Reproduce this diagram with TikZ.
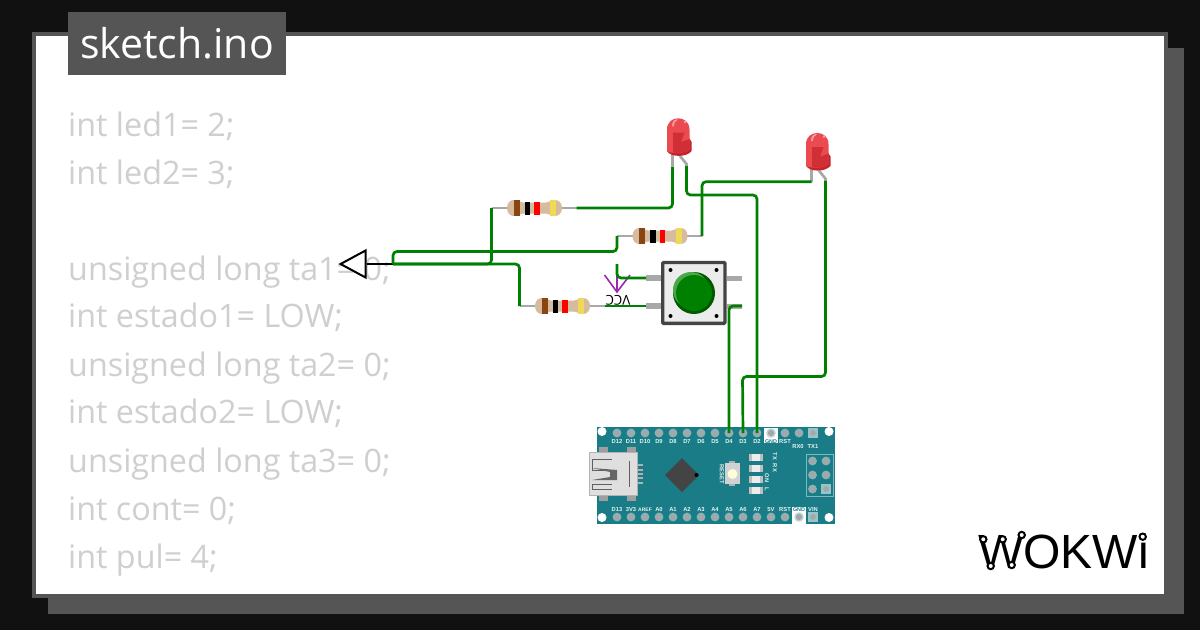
\documentclass[tikz,border=0pt]{standalone}
\usepackage{fontspec}
\usetikzlibrary{shapes.geometric}
\setmainfont{Open Sans}
\newfontfamily\boardfont{Liberation Sans}[Scale=1]
\newfontfamily\logofont{Liberation Sans}
\definecolor{pagebg}{HTML}{111111}
\definecolor{framegray}{HTML}{555555}
\definecolor{codegray}{HTML}{CFCFCF}
\definecolor{wiregreen}{HTML}{008000}
\definecolor{leadgray}{HTML}{A8A8A8}
\definecolor{boardteal}{HTML}{1A7C86}
\definecolor{bodytan}{HTML}{D5BC9E}
\definecolor{ledred}{HTML}{EA4A50}
\definecolor{ledmid}{HTML}{CF2F35}
\definecolor{leddark}{HTML}{C4242A}
\definecolor{vccpurple}{HTML}{9C27B0}
\definecolor{chipgray}{HTML}{444444}
\definecolor{bandbrown}{HTML}{8B4513}
\definecolor{bandyellow}{HTML}{F0D858}
\tikzset{
  wire/.style={draw=wiregreen, line width=2.7pt, rounded corners=4pt},
  lead/.style={draw=leadgray, line width=2.7pt},
  codeline/.style={anchor=base west, inner sep=0pt, text=codegray, font=\fontsize{32.3}{33}\selectfont},
  pinlabel/.style={inner sep=0pt, text height=4.2pt, text depth=0pt, text=white!90!boardteal, font=\boardfont\bfseries\fontsize{5.8}{6}\selectfont},
  gndlabel/.style={inner sep=0pt, text height=4.2pt, text depth=0pt, text=boardteal, font=\boardfont\bfseries\fontsize{5.4}{6}\selectfont},
  sidelabel/.style={pinlabel, rotate=-90},
  logoring/.style={draw=black, fill=white, line width=2pt},
}
% resistor: left end of the body at x,y
\newcommand\resistor[3]{
  \begin{scope}[shift={(#2,#3)}]
    \coordinate (#1l) at (-15.5,0);
    \coordinate (#1r) at (69.5,0);
    \draw[lead] (#1l) -- (#1r);
    \fill[bodytan] (0,0) .. controls (0,-5) and (3,-8) .. (7,-8) .. controls (11,-8) and (13,-5.5) .. (16,-5.5)
      -- (39,-5.5) .. controls (42,-5.5) and (44,-8) .. (48,-8) .. controls (52,-8) and (55,-5) .. (55,0)
      .. controls (55,5) and (52,8) .. (48,8) .. controls (44,8) and (42,5.5) .. (39,5.5)
      -- (16,5.5) .. controls (13,5.5) and (11,8) .. (7,8) .. controls (3,8) and (0,5) .. (0,0) -- cycle;
    \fill[bandbrown] (6.7,-8) rectangle (12.7,8);
    \fill[black] (17.7,-6.5) rectangle (23.3,6.5);
    \fill[red] (27.3,-6.5) rectangle (32.7,6.5);
    \fill[bandyellow] (43.3,-8) rectangle (49.3,8);
  \end{scope}
}
% led: left end of the dome, top
\newcommand\ledpart[3]{
  \begin{scope}[shift={(#2,#3)}]
    \coordinate (#1a) at (5.5,49);
    \coordinate (#1b) at (19.5,48);
    \draw[lead] (5.5,36) -- (#1a);
    \draw[lead] (13,38) -- (19.5,46) -- (#1b);
    \fill[leddark] (0,30) -- (0,33) .. controls (3,39) and (19,40) .. (24.7,33) -- (24.7,24) -- (22,20) -- cycle;
    \fill[ledred] (0,33) -- (0,11.5) .. controls (0,-3.5) and (22.5,-3.5) .. (22.5,11.5) -- (22.5,31)
      .. controls (18,36) and (5,36) .. (0,33) -- cycle;
    \fill[ledmid] (6,14.5) -- (17.5,14.5) -- (14,24) -- (22.5,21) -- (22.5,31) .. controls (18,35) and (10,35.5) .. (6,34.5) -- cycle;
    \fill[white!45!ledred] (5,8) .. controls (5,2) and (9,1) .. (11,1.5) .. controls (8,3) and (7,5) .. (7,8.5) -- cycle;
    \fill[white!45!ledred] (18,4) circle (1.5);
  \end{scope}
}
\begin{document}
\begin{tikzpicture}[x=1pt,y=-1pt]
  \useasboundingbox (0,0) rectangle (1200,630);
  \fill[pagebg] (0,0) rectangle (1200,630);
  \fill[framegray] (48,48) rectangle (1184,614);
  \fill[framegray] (32,32) rectangle (1168,598);
  \fill[white] (36,36) rectangle (1164,594);

  %% code behind the circuit
  \foreach \yy/\txt [count=\i] in {136/int led1= 2;, 184/int led2= 3;, 280/unsigned long ta1= 0;,
    327/int estado1= LOW;, 376/unsigned long ta2= 0;, 423/int estado2= LOW;,
    472/unsigned long ta3= 0;, 520/int cont= 0;, 568/int pul= 4;}
    \node[codeline] (code\i) at (68,\yy) {\txt};

  \fill[framegray] (68,12) rectangle (286,75);
  \node[inner sep=0pt, anchor=base, text=white, font=\fontsize{41}{42}\selectfont] (title) at (177,58) {sketch.ino};

  %% nano board
  \fill[boardteal] (597,427) rectangle (835,524);
  \fill[white] (764,428) rectangle (778,443);
  \fill[white] (792,507) rectangle (806,524);
  \foreach \xx/\yy in {602/431.5, 602/517.5, 829/431.5, 829/517.5}
    \fill[white] (\xx,\yy) circle (4.5);

  \foreach \nm/\xx in {D12/617, D11/631, D10/645, D9/659, D8/673, D7/687, D6/701, D5/715, D4/729, D3/743, D2/757, RST/785}{
    \coordinate (p\nm) at (\xx,433);
    \fill[white!45!boardteal] (\xx,433) circle (4.4);
    \fill[gray!70] (\xx,433) circle (3.1);
    \node[pinlabel] (ltop\nm) at (\xx,441) {\nm};
  }
  \foreach \nm/\xx in {D13/617, 3V3/631, A0/659, A1/673, A2/687, A3/701, A4/715, A5/729, A6/743, A7/757, 5V/771, RST/785, VIN/813}{
    \fill[white!45!boardteal] (\xx,517) circle (4.4);
    \fill[gray!70] (\xx,517) circle (3.1);
    \node[pinlabel] (lbot\nm) at (\xx,509) {\nm};
  }
  \fill[white!45!boardteal] (645,517) circle (4.4);
  \fill[gray!70] (645,517) circle (3.1);
  \node[pinlabel, font=\boardfont\bfseries\fontsize{5}{6}\selectfont] (lbotAREF) at (645,509) {AREF};
  \foreach \xx/\yy in {771/433, 799/517}{
    \fill[white!70!boardteal] (\xx,\yy) circle (4.8);
    \fill[gray!70] (\xx,\yy) circle (3.1);
  }
  \node[gndlabel] (ltopGND) at (771,441) {GND};
  \node[gndlabel] (lbotGND) at (799,509) {GND};
  \fill[white!45!boardteal] (799,433) circle (4.4);
  \fill[gray!70] (799,433) circle (3.1);
  \node[pinlabel] (ltopRX) at (798,446) {RX0};
  \node[pinlabel] (ltopTX) at (813,446) {TX1};
  \fill[white!55!boardteal] (808,428) rectangle (818,438);
  \fill[gray!70] (813,433) circle (2.8);
  \fill[white!55!boardteal] (808,512) rectangle (818,522);
  \fill[gray!70] (813,517) circle (2.8);

  %% icsp header
  \draw[white!45!boardteal, line width=0.8pt] (806,454) rectangle (833,496);
  \foreach \xx/\yy in {812.5/461, 826/461, 812.5/475, 826/475, 812.5/489}{
    \fill[white!45!boardteal] (\xx,\yy) circle (4.4);
    \fill[gray!70] (\xx,\yy) circle (3.1);
  }
  \fill[white!55!boardteal] (821,484) rectangle (831,494);
  \fill[gray!70] (826,489) circle (2.8);

  %% usb socket
  \foreach \xx in {599,627}{
    \fill[gray!75] (\xx,447) rectangle +(8.5,5);
    \fill[gray!75] (\xx,495) rectangle +(8.5,6);
  }
  \foreach \yy in {465,470,474,478,483}
    \fill[gray!60] (638,\yy-1) rectangle (643,\yy+1);
  \draw[gray!60, fill=gray!25, line width=0.8pt] (589,452.5) -- (637,452.5) -- (637,495) -- (589,495) -- cycle;
  \fill[gray!75!black] (628.5,461) rectangle (630,487);
  \draw[gray!75!black, line width=1pt] (612,459) -- (592.5,459) -- (592.5,470) -- (612,470);
  \fill[gray!80!black] (592,468) -- (617,470) -- (617,480) -- (592,480) -- (610,477) -- (610,472) -- cycle;
  \draw[gray!75!black, line width=1pt] (612,484) -- (592.5,484) -- (592.5,489) -- (612,489);

  %% chip
  \fill[chipgray] (682,458) -- (699,475) -- (682,492) -- (665,475) -- cycle;
  \fill[black] (696.5,475) circle (2);

  %% reset and small leds
  \fill[gray!60] (729,461) rectangle (735,486);
  \fill[gray!35] (725,463) rectangle (740,484);
  \fill[yellow!15!white] (732.5,474) circle (5);
  \node[sidelabel] (lreset) at (722,474) {RESET};
  \foreach \yy in {457,468,479,490}{
    \fill[gray!50] (749,\yy-3.5) rectangle (763,\yy+3.5);
    \fill[white!85!gray] (752,\yy-3.5) rectangle (760,\yy+3.5);
  }
  \node[sidelabel] (ltx) at (775,456.5) {TX};
  \node[sidelabel] (lrx) at (775,468) {RX};
  \node[sidelabel] (lon) at (767,478) {ON};
  \node[sidelabel] (ll) at (767,489.5) {L};

  %% push button
  \fill[leadgray] (646,275) rectangle (661,281);
  \fill[leadgray] (646,303) rectangle (661,309);
  \fill[leadgray] (727,275.5) rectangle (742,280.5);
  \fill[leadgray] (727,303.5) rectangle (742,308.5);
  \coordinate (btnTL) at (646,278);
  \coordinate (btnBL) at (646,306);
  \coordinate (btnBR) at (742,306);
  \draw[draw=chipgray, fill=gray!15, line width=3.4pt, rounded corners=1pt] (662.7,262.5) rectangle (725,323.3);
  \foreach \xx/\yy in {670.5/270, 716.5/270, 670.5/316, 716.5/316}
    \fill[black] (\xx,\yy) circle (2);
  \fill[wiregreen!70!black] (694,293) circle (21);
  \fill[wiregreen!70!white] (691,290) circle (18);
  \fill[wiregreen] (694,293) circle (18);

  %% parts
  \resistor{ra}{507}{208}
  \resistor{rb}{632.5}{236}
  \resistor{rc}{535}{306}
  \ledpart{leda}{667}{118}
  \ledpart{ledb}{806}{132.7}

  %% vcc
  \coordinate (vcctop) at (617,264);
  \coordinate (vcctip) at (617,292);
  \draw[vccpurple, line width=1.6pt] (vcctop) -- (vcctip);
  \draw[vccpurple, line width=1.6pt] (604.5,275) -- (vcctip) -- (630,275);
  \node[inner sep=0pt, rotate=180, font=\fontsize{13.5}{14}\selectfont] (vcc) at (618,300) {VCC};

  %% gnd
  \coordinate (gndwire) at (393,264);
  \node[draw=black, fill=white, line width=2pt, isosceles triangle, shape border rotate=180, inner sep=0pt,
    minimum height=25pt, minimum width=27pt, isosceles triangle stretches] (gnd) at (357.5,264) {};
  \draw[black, line width=2pt] (gnd.east) -- (gndwire);

  %% connections
  \coordinate (wb) at (617,251.5);
  \coordinate (wd2) at (757,195);
  \coordinate (wd3) at (742.5,376.5);
  \draw[wire] (gndwire) -| (ral);
  \draw[wire] (gndwire) |- (wb) -- (rbl);
  \draw[wire] (gndwire) -| (rcl);
  \draw[wire] (rar) -| (ledaa);
  \draw[wire] (ledab) |- (wd2) -- (pD2);
  \draw[wire] (ledba) -| (rbr);
  \draw[wire] (ledbb) |- (wd3) -- (pD3);
  \draw[wire] (vcctop) |- (btnTL);
  \draw[wire] (rcr) -- (btnBL);
  \draw[wire] (btnBR) -| (pD4);

  %% logo
  \node[inner sep=0pt, anchor=base west, font=\logofont\fontsize{48}{48}\selectfont] (logo) at (978,568) {WOKWi};
  \foreach \xx/\yy in {983.3/539.3, 1002.7/539.3, 1021.7/535, 990.7/566, 1011.7/565, 1142.7/536.7}
    \draw[logoring] (\xx,\yy) circle (3.2);
\end{tikzpicture}
\end{document}
